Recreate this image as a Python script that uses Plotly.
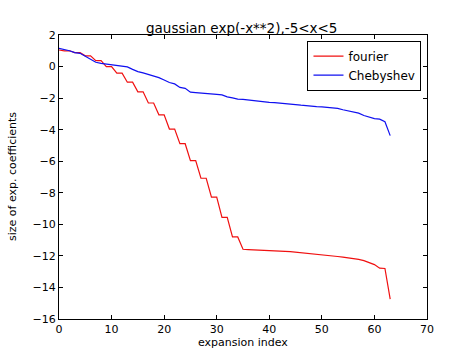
import plotly.graph_objects as go

index = list(range(64))

fourier = [
    1.05, 1.0, 1.0, 0.88, 0.88, 0.68, 0.68, 0.37, 0.37, 0.0,
    0.0, -0.42, -0.42, -0.99, -0.99, -1.6, -1.6, -2.31, -2.31, -3.06,
    -3.06, -3.96, -3.96, -4.89, -4.89, -5.96, -5.96, -7.08, -7.08, -8.28,
    -8.28, -9.56, -9.56, -10.8, -10.8, -11.58, -11.6, -11.61, -11.62, -11.64,
    -11.65, -11.67, -11.69, -11.71, -11.73, -11.76, -11.79, -11.82, -11.86, -11.9,
    -11.94, -11.97, -12.0, -12.04, -12.08, -12.12, -12.17, -12.22, -12.3, -12.45,
    -12.55, -12.78, -12.8, -14.74,
]

chebyshev = [
    1.15, 1.08, 1.0, 0.88, 0.84, 0.65, 0.45, 0.27, 0.2, 0.15,
    0.1, 0.05, 0.0, -0.02, -0.18, -0.32, -0.4, -0.5, -0.6, -0.7,
    -0.85, -1.01, -1.1, -1.32, -1.38, -1.62, -1.65, -1.67, -1.68, -1.72,
    -1.76, -1.8, -1.92, -1.98, -2.06, -2.08, -2.12, -2.18, -2.23, -2.25,
    -2.27, -2.29, -2.31, -2.33, -2.37, -2.41, -2.45, -2.49, -2.52, -2.54,
    -2.56, -2.58, -2.6, -2.65, -2.74, -2.8, -2.88, -2.95, -3.1, -3.22,
    -3.3, -3.33, -3.5, -4.38,
]

x_ticks = [0, 10, 20, 30, 40, 50, 60, 70]
y_ticks = [-16, -14, -12, -10, -8, -6, -4, -2, 0, 2]

font = "DejaVu Sans"

fig = go.Figure()
fig.add_trace(go.Scatter(x=index, y=fourier, mode="lines", name="fourier",
                         line=dict(color="#f01010", width=1.2)))
fig.add_trace(go.Scatter(x=index, y=chebyshev, mode="lines", name="Chebyshev",
                         line=dict(color="#1010f0", width=1.2)))

axis_common = dict(
    showline=True, linecolor="black", linewidth=1, mirror="ticks",
    ticks="inside", ticklen=4, tickcolor="black", showgrid=False, zeroline=False,
    automargin=False,
    tickfont=dict(family=font, size=11, color="black"),
)

fig.update_layout(
    width=474, height=355,
    paper_bgcolor="white", plot_bgcolor="white",
    margin=dict(l=59, r=47, t=35, b=36),
    title=dict(text="gaussian exp(-x**2),-5<x<5", x=0.51, xanchor="center",
               y=0.92, yanchor="middle",
               font=dict(family=font, size=13.5, color="black")),
    xaxis=dict(range=[0, 70], tickvals=x_ticks, **axis_common),
    yaxis=dict(range=[-16, 2], tickvals=y_ticks, **axis_common),
    legend=dict(x=0.985, y=0.98, xanchor="right", yanchor="top",
                bordercolor="black", borderwidth=1, bgcolor="white",
                font=dict(family=font, size=12, color="black"),
                itemwidth=30, tracegroupgap=0),
    showlegend=True,
    annotations=[
        dict(text="expansion index", xref="paper", yref="paper", x=0.5, y=0,
             xanchor="center", yanchor="middle", yshift=-23, showarrow=False,
             font=dict(family=font, size=11, color="black")),
        dict(text="size of exp. coefficients", xref="paper", yref="paper", x=0, y=0.5,
             xanchor="center", yanchor="middle", xshift=-47, textangle=-90,
             showarrow=False, font=dict(family=font, size=11, color="black")),
    ],
)

fig.write_html("out.html", config={"displayModeBar": False},
               post_script="document.body.style.margin='0';")
